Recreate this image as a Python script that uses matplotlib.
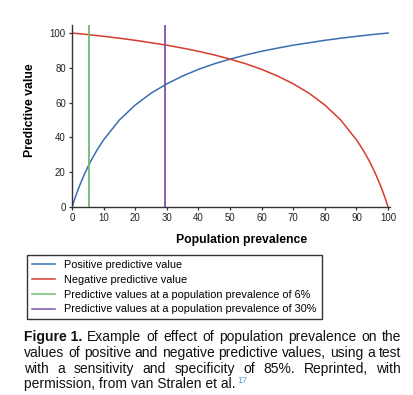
import matplotlib.pyplot as plt
from matplotlib.lines import Line2D

plt.rcParams['font.family'] = ['Liberation Sans', 'DejaVu Sans']

# prevalence (%) and predictive values
prevalence = [0, 1, 2, 3, 4, 5, 6, 8, 10, 15, 20, 25, 30, 35, 40, 45, 50, 55, 60,
              65, 70, 75, 80, 85, 90, 92, 94, 95, 96, 97, 98, 99, 100]
ppv = [0, 5.4, 10.4, 14.9, 19.1, 23.0, 26.6, 33.0, 38.6, 50.0, 58.6, 65.4, 70.8,
       75.3, 79.1, 82.3, 85.0, 87.4, 89.5, 91.3, 93.0, 94.4, 95.8, 97.0, 98.1,
       98.5, 98.9, 99.1, 99.3, 99.5, 99.6, 99.8, 100]
npv = [100, 99.8, 99.6, 99.5, 99.3, 99.1, 98.9, 98.5, 98.1, 97.0, 95.8, 94.4,
       93.0, 91.3, 89.5, 87.4, 85.0, 82.3, 79.1, 75.3, 70.8, 65.4, 58.6, 50.0,
       38.6, 33.0, 26.6, 23.0, 19.1, 14.9, 10.4, 5.4, 0]
marker_lines = [5.3, 29.3]   # drawn positions of the 6% and 30% markers
xticks = [0, 10, 20, 30, 40, 50, 60, 70, 80, 90, 100]
yticks = [0, 20, 40, 60, 80, 100]
legend_labels = ['Positive predictive value',
                 'Negative predictive value',
                 'Predictive values at a population prevalence of 6%',
                 'Predictive values at a population prevalence of 30%']
colors = ['#3a6eb0', '#d93a2e', '#6dbd6b', '#7d55ad']

W, H = 413, 395
fig = plt.figure(figsize=(W / 100, H / 100), dpi=100)
ax = fig.add_axes([72 / W, 1 - 207 / H, 318 / W, 182 / H])

ax.plot(prevalence, ppv, color=colors[0], lw=1.1)
ax.plot(prevalence, npv, color=colors[1], lw=1.1)
ax.axvline(marker_lines[0], color=colors[2], lw=1.3)
ax.axvline(marker_lines[1], color=colors[3], lw=1.3)

ax.set_xlim(0, 100.6)
ax.set_ylim(0, 104.6)
ax.set_xticks(xticks)
ax.set_yticks(yticks)
for s in ['top', 'right']:
    ax.spines[s].set_visible(False)
for s in ['left', 'bottom']:
    ax.spines[s].set_color('#333333')
    ax.spines[s].set_linewidth(1.0)
ax.tick_params(direction='out', length=2.5, width=0.9, colors='#333333',
               labelsize=6.9, pad=2)
ax.tick_params(labelcolor='#222222')

ax.set_xlabel('Population prevalence', fontsize=8.8, fontweight='bold')
ax.xaxis.set_label_coords((242 - 72) / 318, -0.15)
ax.set_ylabel('Predictive value', fontsize=8.8, fontweight='bold')
ax.yaxis.set_label_coords(-0.112, 0.533)

handles = [Line2D([], [], color=c, lw=1.1) for c in colors]
leg = fig.legend(handles, legend_labels, loc='upper left',
                 bbox_to_anchor=(27 / W, 1 - 255 / H), fontsize=7.8,
                 frameon=True, fancybox=False, edgecolor='black',
                 borderaxespad=0, handlelength=2.1, handletextpad=0.9,
                 labelspacing=0.45, borderpad=0.45)
leg.get_frame().set_linewidth(1.0)

# caption: first three lines justified, last line left aligned
renderer = fig.canvas.get_renderer()
x0, x1 = 24 / W, 401 / W
cap_size = 10.0
lines = [
    [('Figure 1.', 'bold'), ('Example', 'normal'), ('of', 'normal'), ('effect', 'normal'),
     ('of', 'normal'), ('population', 'normal'), ('prevalence', 'normal'),
     ('on', 'normal'), ('the', 'normal')],
    [(w, 'normal') for w in 'values of positive and negative predictive values, using a test'.split()],
    [(w, 'normal') for w in 'with a sensitivity and specificity of 85%. Reprinted, with'.split()],
]
baselines = [341.3, 357, 372.7, 388.3]

for tokens, yb in zip(lines, baselines):
    texts = [fig.text(0, 1 - yb / H, s, fontsize=cap_size, fontweight=w,
                      va='baseline', ha='left', color='#111111')
             for s, w in tokens]
    widths = [t.get_window_extent(renderer).width / W for t in texts]
    gap = (x1 - x0 - sum(widths)) / (len(texts) - 1)
    x = x0
    for t, w in zip(texts, widths):
        t.set_x(x)
        x += w + gap

last = fig.text(x0, 1 - baselines[3] / H, 'permission, from van Stralen et al.',
                fontsize=cap_size, va='baseline', ha='left', color='#111111')
end = last.get_window_extent(renderer).x1 / W
fig.text(end + 1.5 / W, 1 - (baselines[3] - 5) / H, '17', fontsize=6.5,
         color='#4aa3df', va='baseline', ha='left')

fig.savefig('out.png', dpi=100)
